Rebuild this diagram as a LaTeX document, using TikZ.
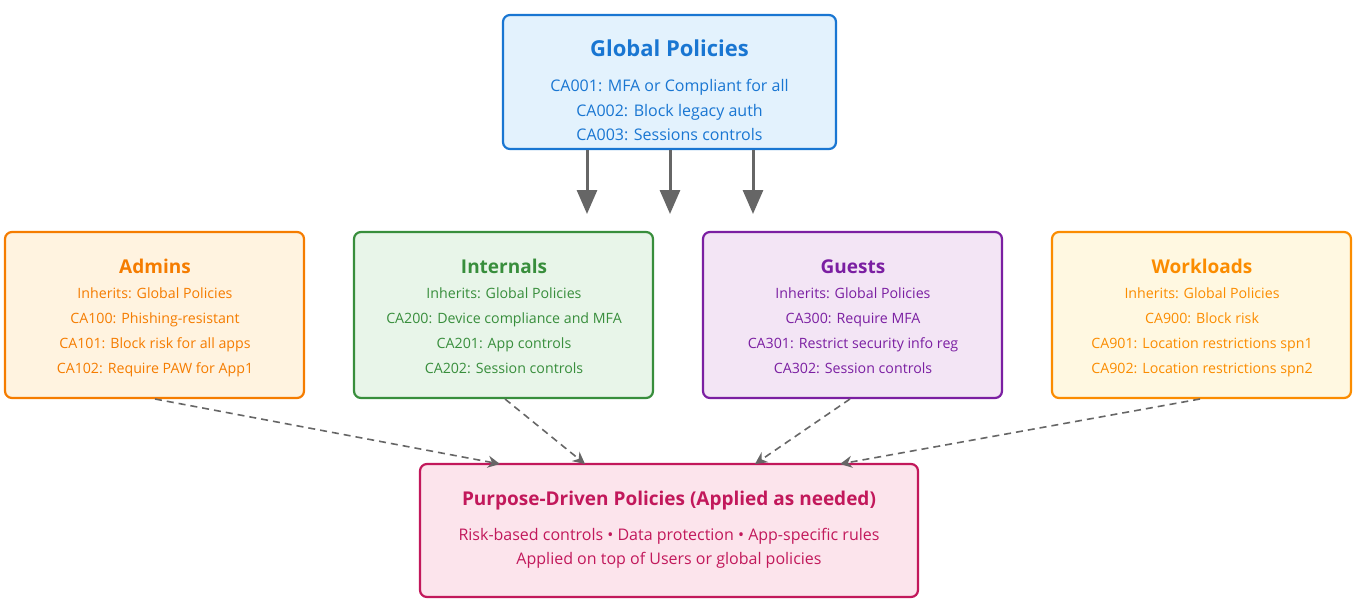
\documentclass[tikz,border=0pt]{standalone}
\usepackage{fontspec}
\setmainfont{Open Sans}
\usetikzlibrary{arrows.meta}
\definecolor{gb}{HTML}{1976D2}\definecolor{gbf}{HTML}{E3F2FD}
\definecolor{ao}{HTML}{F57C00}\definecolor{aof}{HTML}{FFF3E0}
\definecolor{ig}{HTML}{388E3C}\definecolor{igf}{HTML}{E8F5E9}
\definecolor{gp}{HTML}{7B1FA2}\definecolor{gpf}{HTML}{F3E5F5}
\definecolor{wo}{HTML}{FB8C00}\definecolor{wof}{HTML}{FFF8E1}
\definecolor{pp}{HTML}{C2185B}\definecolor{ppf}{HTML}{FCE4EC}
\definecolor{ar}{HTML}{666666}
\begin{document}
\begin{tikzpicture}[x=1pt,y=-1pt,
 box/.style={draw=#1,line width=2.2pt,rounded corners=7pt},
 ttl/.style={font=\fontsize{22}{26}\selectfont\bfseries,text=#1,text height=12pt,text depth=3pt,yshift=-3pt},
 txt/.style={font=\fontsize{16}{19}\selectfont,text=#1,text height=9pt,text depth=3pt,yshift=-3pt},
 ctl/.style={font=\fontsize{19}{22}\selectfont\bfseries,text=#1,text height=11pt,text depth=3pt,yshift=-3pt},
 ctx/.style={font=\fontsize{14.2}{17}\selectfont,text=#1,text height=8pt,text depth=3pt,yshift=-3pt},
 solidarr/.style={draw=ar,line width=3pt,-{Triangle[length=24pt,width=20pt]}},
 dasharr/.style={draw=ar,line width=1.6pt,dashed,dash pattern=on 7pt off 5pt,-{Stealth[length=12pt,width=12pt]}}]
\useasboundingbox (0,0) rectangle (1358,603);
% global
\path[box=gb,fill=gbf] (503,15) rectangle (836,149);
\node[ttl=gb] (gt) at (669.5,49) {Global Policies};
\node[txt=gb] (g1) at (669.5,85) {CA001: MFA or Compliant for all};
\node[txt=gb] (g2) at (669.5,110) {CA002: Block legacy auth};
\node[txt=gb] (g3) at (669.5,134) {CA003: Sessions controls};
\coordinate (gs1) at (587,150); \coordinate (ge1) at (587,214);
\coordinate (gs2) at (670,150); \coordinate (ge2) at (670,214);
\coordinate (gs3) at (753,150); \coordinate (ge3) at (753,214);
\foreach \i in {1,2,3} \draw[solidarr] (gs\i) -- (ge\i);
% columns
\newcommand\col[8]{%
 \path[box=#2,fill=#3] (#1-150,232) rectangle (#1+149,398);
 \node[ctl=#2] (#4t) at (#1,266) {#5};
 \node[ctx=#2] (#4a) at (#1,293) {Inherits: Global Policies};
 \node[ctx=#2] (#4b) at (#1,318) {#6};
 \node[ctx=#2] (#4c) at (#1,343) {#7};
 \node[ctx=#2] (#4d) at (#1,368) {#8};}
\col{155}{ao}{aof}{ad}{Admins}{CA100: Phishing-resistant}{CA101: Block risk for all apps}{CA102: Require PAW for App1}
\col{504}{ig}{igf}{in}{Internals}{CA200: Device compliance and MFA}{CA201: App controls}{CA202: Session controls}
\col{853}{gp}{gpf}{gu}{Guests}{CA300: Require MFA}{CA301: Restrict security info reg}{CA302: Session controls}
\col{1202}{wo}{wof}{wl}{Workloads}{CA900: Block risk}{CA901: Location restrictions spn1}{CA902: Location restrictions spn2}
% purpose
\path[box=pp,fill=ppf] (420,464) rectangle (918,597);
\node[ctl=pp] (pt) at (669,498) {Purpose-Driven Policies (Applied as needed)};
\node[txt=pp] (p1) at (669,534) {Risk-based controls • Data protection • App-specific rules};
\node[txt=pp] (p2) at (669,558) {Applied on top of Users or global policies};
\coordinate (s1) at (155,399); \coordinate (e1) at (500,464);
\coordinate (s2) at (505,399); \coordinate (e2) at (585,464);
\coordinate (s3) at (850,399); \coordinate (e3) at (755,464);
\coordinate (s4) at (1200,399); \coordinate (e4) at (840,464);
\foreach \i in {1,2,3,4} \draw[dasharr] (s\i) -- (e\i);
\end{tikzpicture}
\end{document}
